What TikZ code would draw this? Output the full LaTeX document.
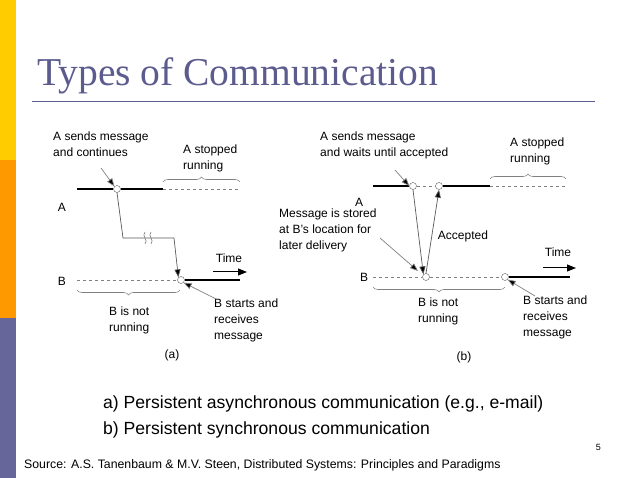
\documentclass[tikz,border=0pt]{standalone}
\usepackage{fontspec}
\setmainfont{Liberation Sans}
\newfontfamily\titlefont{Liberation Serif}
\usetikzlibrary{arrows.meta,decorations.pathreplacing}
\definecolor{tcol}{HTML}{5B5B8E}
\definecolor{barY}{RGB}{255,204,0}
\definecolor{barO}{RGB}{255,153,0}
\definecolor{barP}{RGB}{102,102,154}
\tikzset{
 lbl/.style={font=\fontsize{12}{16}\selectfont, align=left, inner sep=0pt},
 run/.style={line width=2.4pt},
 idle/.style={dashed, gray, line width=0.6pt},
 ev/.style={circle, draw=gray!70!black, fill=white, minimum size=7pt, inner sep=0pt},
 msg/.style={gray!70!black, line width=0.7pt, -{Triangle[length=8pt,width=6pt,fill=black]}},
 ptr/.style={gray, line width=0.7pt, -{Triangle[length=8pt,width=6pt,fill=black]}},
 brc/.style={gray, line width=0.6pt, decorate, decoration={brace, amplitude=5pt}},
 tarr/.style={line width=1pt, -{Triangle[length=9pt,width=7pt]}},
 body/.style={font=\fontsize{17.6}{20}\selectfont, anchor=base west, inner sep=0pt}
}
\begin{document}
\begin{tikzpicture}[x=1pt,y=-1pt]
\useasboundingbox (0,0) rectangle (638,478);
\fill[barY] (0,0) rectangle (16,160);
\fill[barO] (0,160) rectangle (16,318);
\fill[barP] (0,318) rectangle (16,478);
\node[anchor=base west, inner sep=0pt, text=tcol, font=\titlefont\fontsize{39.5}{42}\selectfont] (title) at (37,86) {Types of Communication};
\draw[tcol, line width=0.8pt] (32,101) -- (595,101);

% (a)
\node[ev] (a1) at (117,189) {};
\draw[run] (77,189) -- (a1.west) (a1.east) -- (163,189);
\draw[idle] (163,189) -- (240,189);
\draw[brc] (163,182) -- (240,182);
\node[lbl] (aA) at (62,207) {A};
\node[ev] (b1) at (181,280) {};
\draw[idle] (77,280) -- (b1.west);
\draw[run] (b1.east) -- (240,280);
\node[lbl] (aB) at (62,281) {B};
\draw[brc] (180,290) -- (77,290);
\coordinate (m1) at (123,238);
\coordinate (m2) at (174,238);
\draw[msg] (a1.south) -- (m1) -- (m2) -- (b1.north west);
\draw[gray,line width=0.6pt] (145,232) .. controls (141,236) and (149,240) .. (145,244);
\draw[gray,line width=0.6pt] (151,232) .. controls (147,236) and (155,240) .. (151,244);
\coordinate (ta1) at (213,272); \coordinate (ta2) at (247,272);
\draw[tarr] (ta1) -- (ta2);
\node[lbl] (atime) at (229,258) {Time};
\node[lbl, anchor=north west] (asend) at (53,132) {A sends message\\and continues};
\coordinate (p1) at (101,168);
\draw[ptr] (p1) -- (a1.north west);
\node[lbl, anchor=north west] (astop) at (183,145) {A stopped\\running};
\node[lbl, anchor=north west] (anr) at (109,307) {B is not\\running};
\node[lbl, anchor=north west] (ast) at (214,299) {B starts and\\receives\\message};
\coordinate (p0) at (216,299);
\draw[ptr] (p0) -- (b1.south east);
\node[lbl] (alab) at (172,355) {(a)};

% (b)
\node[ev] (c1) at (413,186) {};
\node[ev] (c2) at (439,186) {};
\draw[run] (373,186) -- (c1.west) (c2.east) -- (490,186);
\draw[idle] (c1.east) -- (c2.west) (490,186) -- (566,186);
\draw[brc] (490,179) -- (566,179);
\node[lbl] (bA) at (359,202) {A};
\node[ev] (d1) at (426,277) {};
\node[ev] (d2) at (505,277) {};
\draw[idle] (373,277) -- (d1.west) (d1.east) -- (d2.west);
\draw[run] (d2.east) -- (570,277);
\node[lbl] (bB) at (364,277) {B};
\draw[brc] (505,287) -- (373,287);
\draw[msg] (c1.south) -- (d1.north west);
\draw[msg] (d1.north) -- (c2.south);
\node[lbl] (acc) at (463,236) {Accepted};
\draw[tarr] (543,268) -- (576,268);
\node[lbl] (btime) at (558,252) {Time};
\node[lbl, anchor=north west] (bsend) at (320,132) {A sends message\\and waits until accepted};
\coordinate (p2) at (395,170);
\draw[ptr] (p2) -- (c1.west);
\node[lbl, anchor=north west] (bstop) at (510,138) {A stopped\\running};
\node[lbl, anchor=north west] (bstore) at (279,209) {Message is stored\\at B's location for\\later delivery};
\coordinate (p3) at (380,238);
\draw[ptr] (p3) -- (418,271);
\node[lbl, anchor=north west] (bnr) at (418,298) {B is not\\running};
\node[lbl, anchor=north west] (bst) at (523,296) {B starts and\\receives\\message};
\coordinate (p4) at (535,296);
\draw[ptr] (p4) -- (d2.south east);
\node[lbl] (blab) at (464,357) {(b)};

\node[body] (t1) at (103,409) {a) Persistent asynchronous communication (e.g., e-mail)};
\node[body] (t2) at (103,435) {b) Persistent synchronous communication};
\node[anchor=base east, inner sep=0pt, font=\fontsize{9}{10}\selectfont] (pg) at (601,451) {5};
\node[anchor=base west, inner sep=0pt, font=\fontsize{12.3}{14}\selectfont] (src) at (24,469) {Source: A.S. Tanenbaum \& M.V. Steen, Distributed Systems: Principles and Paradigms};
\end{tikzpicture}
\end{document}
